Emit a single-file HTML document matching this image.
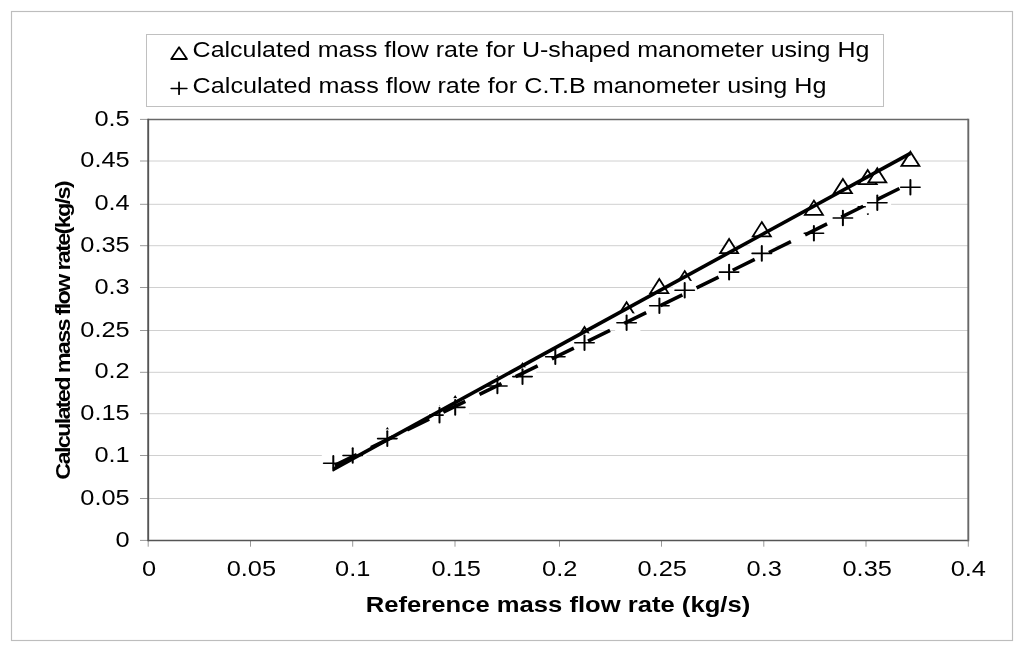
<!DOCTYPE html>
<html><head><meta charset="utf-8"><title>Calculated vs reference mass flow rate</title>
<style>html,body{margin:0;padding:0;background:#fff;width:1024px;height:652px;overflow:hidden}</style>
</head><body>
<svg width="1024" height="652" viewBox="0 0 1024 652" style="display:block">
<rect x="0" y="0" width="1024" height="652" fill="#ffffff"/>
<rect x="11.5" y="11.5" width="1001" height="629" fill="none" stroke="#bdbdbd" stroke-width="1.15"/>
<line x1="148.20" y1="498.50" x2="968.30" y2="498.50" stroke="#d0d0d0" stroke-width="1"/>
<line x1="148.20" y1="455.50" x2="968.30" y2="455.50" stroke="#d0d0d0" stroke-width="1"/>
<line x1="148.20" y1="413.70" x2="968.30" y2="413.70" stroke="#d0d0d0" stroke-width="1"/>
<line x1="148.20" y1="372.30" x2="968.30" y2="372.30" stroke="#d0d0d0" stroke-width="1"/>
<line x1="148.20" y1="330.50" x2="968.30" y2="330.50" stroke="#d0d0d0" stroke-width="1"/>
<line x1="148.20" y1="287.50" x2="968.30" y2="287.50" stroke="#d0d0d0" stroke-width="1"/>
<line x1="148.20" y1="245.70" x2="968.30" y2="245.70" stroke="#d0d0d0" stroke-width="1"/>
<line x1="148.20" y1="204.30" x2="968.30" y2="204.30" stroke="#d0d0d0" stroke-width="1"/>
<line x1="148.20" y1="161.00" x2="968.30" y2="161.00" stroke="#d0d0d0" stroke-width="1"/>
<line x1="140" y1="540.40" x2="148.20" y2="540.40" stroke="#999999" stroke-width="1"/>
<line x1="140" y1="498.50" x2="148.20" y2="498.50" stroke="#999999" stroke-width="1"/>
<line x1="140" y1="455.50" x2="148.20" y2="455.50" stroke="#999999" stroke-width="1"/>
<line x1="140" y1="413.70" x2="148.20" y2="413.70" stroke="#999999" stroke-width="1"/>
<line x1="140" y1="372.30" x2="148.20" y2="372.30" stroke="#999999" stroke-width="1"/>
<line x1="140" y1="330.50" x2="148.20" y2="330.50" stroke="#999999" stroke-width="1"/>
<line x1="140" y1="287.50" x2="148.20" y2="287.50" stroke="#999999" stroke-width="1"/>
<line x1="140" y1="245.70" x2="148.20" y2="245.70" stroke="#999999" stroke-width="1"/>
<line x1="140" y1="204.30" x2="148.20" y2="204.30" stroke="#999999" stroke-width="1"/>
<line x1="140" y1="161.00" x2="148.20" y2="161.00" stroke="#999999" stroke-width="1"/>
<line x1="140" y1="119.40" x2="148.20" y2="119.40" stroke="#999999" stroke-width="1"/>
<line x1="148.20" y1="540.40" x2="148.20" y2="546.7" stroke="#999999" stroke-width="1"/>
<line x1="250.50" y1="540.40" x2="250.50" y2="546.7" stroke="#999999" stroke-width="1"/>
<line x1="352.70" y1="540.40" x2="352.70" y2="546.7" stroke="#999999" stroke-width="1"/>
<line x1="455.00" y1="540.40" x2="455.00" y2="546.7" stroke="#999999" stroke-width="1"/>
<line x1="559.50" y1="540.40" x2="559.50" y2="546.7" stroke="#999999" stroke-width="1"/>
<line x1="661.50" y1="540.40" x2="661.50" y2="546.7" stroke="#999999" stroke-width="1"/>
<line x1="763.80" y1="540.40" x2="763.80" y2="546.7" stroke="#999999" stroke-width="1"/>
<line x1="866.00" y1="540.40" x2="866.00" y2="546.7" stroke="#999999" stroke-width="1"/>
<line x1="968.30" y1="540.40" x2="968.30" y2="546.7" stroke="#999999" stroke-width="1"/>
<path d="M387.30,428.60 L396.30,442.80 L378.30,442.80 Z" fill="#fff" stroke="#000" stroke-width="1.8" stroke-linejoin="miter"/>
<path d="M439.50,406.90 L448.50,421.10 L430.50,421.10 Z" fill="#fff" stroke="#000" stroke-width="1.8" stroke-linejoin="miter"/>
<path d="M455.20,396.70 L464.20,410.90 L446.20,410.90 Z" fill="#fff" stroke="#000" stroke-width="1.8" stroke-linejoin="miter"/>
<path d="M497.40,376.80 L506.40,391.00 L488.40,391.00 Z" fill="#fff" stroke="#000" stroke-width="1.8" stroke-linejoin="miter"/>
<path d="M522.50,363.80 L531.50,378.00 L513.50,378.00 Z" fill="#fff" stroke="#000" stroke-width="1.8" stroke-linejoin="miter"/>
<path d="M584.50,326.90 L593.50,341.10 L575.50,341.10 Z" fill="#fff" stroke="#000" stroke-width="1.8" stroke-linejoin="miter"/>
<path d="M626.60,302.20 L635.60,316.40 L617.60,316.40 Z" fill="#fff" stroke="#000" stroke-width="1.8" stroke-linejoin="miter"/>
<path d="M659.30,278.90 L668.30,293.10 L650.30,293.10 Z" fill="#fff" stroke="#000" stroke-width="1.8" stroke-linejoin="miter"/>
<path d="M684.70,271.10 L693.70,285.30 L675.70,285.30 Z" fill="#fff" stroke="#000" stroke-width="1.8" stroke-linejoin="miter"/>
<path d="M729.10,239.00 L738.10,253.20 L720.10,253.20 Z" fill="#fff" stroke="#000" stroke-width="1.8" stroke-linejoin="miter"/>
<path d="M761.80,222.10 L770.80,236.30 L752.80,236.30 Z" fill="#fff" stroke="#000" stroke-width="1.8" stroke-linejoin="miter"/>
<path d="M813.90,200.60 L822.90,214.80 L804.90,214.80 Z" fill="#fff" stroke="#000" stroke-width="1.8" stroke-linejoin="miter"/>
<path d="M842.90,179.00 L851.90,193.20 L833.90,193.20 Z" fill="#fff" stroke="#000" stroke-width="1.8" stroke-linejoin="miter"/>
<path d="M867.70,170.00 L876.70,184.20 L858.70,184.20 Z" fill="#fff" stroke="#000" stroke-width="1.8" stroke-linejoin="miter"/>
<path d="M877.30,168.20 L886.30,182.40 L868.30,182.40 Z" fill="#fff" stroke="#000" stroke-width="1.8" stroke-linejoin="miter"/>
<path d="M910.40,151.70 L919.40,165.90 L901.40,165.90 Z" fill="#fff" stroke="#000" stroke-width="1.8" stroke-linejoin="miter"/>
<rect x="321.80" y="453.90" width="25.3" height="19.9" fill="#fff"/>
<path d="M323.60,463.20H343.00" stroke="#000" stroke-width="1.6" stroke-linecap="round"/>
<path d="M333.30,455.90V470.50" stroke="#000" stroke-width="2.0" stroke-linecap="round"/>
<rect x="341.20" y="446.20" width="25.3" height="19.9" fill="#fff"/>
<path d="M343.00,455.50H362.40" stroke="#000" stroke-width="1.6" stroke-linecap="round"/>
<path d="M352.70,448.20V462.80" stroke="#000" stroke-width="2.0" stroke-linecap="round"/>
<rect x="375.80" y="429.30" width="25.3" height="19.9" fill="#fff"/>
<path d="M377.60,438.60H397.00" stroke="#000" stroke-width="1.6" stroke-linecap="round"/>
<path d="M387.30,431.30V445.90" stroke="#000" stroke-width="2.0" stroke-linecap="round"/>
<rect x="428.00" y="405.80" width="25.3" height="19.9" fill="#fff"/>
<path d="M429.80,415.10H449.20" stroke="#000" stroke-width="1.6" stroke-linecap="round"/>
<path d="M439.50,407.80V422.40" stroke="#000" stroke-width="2.0" stroke-linecap="round"/>
<rect x="443.70" y="398.10" width="25.3" height="19.9" fill="#fff"/>
<path d="M445.50,407.40H464.90" stroke="#000" stroke-width="1.6" stroke-linecap="round"/>
<path d="M455.20,400.10V414.70" stroke="#000" stroke-width="2.0" stroke-linecap="round"/>
<rect x="485.90" y="376.70" width="25.3" height="19.9" fill="#fff"/>
<path d="M487.70,386.00H507.10" stroke="#000" stroke-width="1.6" stroke-linecap="round"/>
<path d="M497.40,378.70V393.30" stroke="#000" stroke-width="2.0" stroke-linecap="round"/>
<rect x="511.00" y="367.30" width="25.3" height="19.9" fill="#fff"/>
<path d="M512.80,376.60H532.20" stroke="#000" stroke-width="1.6" stroke-linecap="round"/>
<path d="M522.50,369.30V383.90" stroke="#000" stroke-width="2.0" stroke-linecap="round"/>
<rect x="543.80" y="347.50" width="25.3" height="19.9" fill="#fff"/>
<path d="M545.60,356.80H565.00" stroke="#000" stroke-width="1.6" stroke-linecap="round"/>
<path d="M555.30,349.50V364.10" stroke="#000" stroke-width="2.0" stroke-linecap="round"/>
<rect x="573.00" y="333.40" width="25.3" height="19.9" fill="#fff"/>
<path d="M574.80,342.70H594.20" stroke="#000" stroke-width="1.6" stroke-linecap="round"/>
<path d="M584.50,335.40V350.00" stroke="#000" stroke-width="2.0" stroke-linecap="round"/>
<rect x="615.10" y="313.40" width="25.3" height="19.9" fill="#fff"/>
<path d="M616.90,322.70H636.30" stroke="#000" stroke-width="1.6" stroke-linecap="round"/>
<path d="M626.60,315.40V330.00" stroke="#000" stroke-width="2.0" stroke-linecap="round"/>
<rect x="647.90" y="296.40" width="25.3" height="19.9" fill="#fff"/>
<path d="M649.70,305.70H669.10" stroke="#000" stroke-width="1.6" stroke-linecap="round"/>
<path d="M659.40,298.40V313.00" stroke="#000" stroke-width="2.0" stroke-linecap="round"/>
<rect x="673.20" y="280.90" width="25.3" height="19.9" fill="#fff"/>
<path d="M675.00,290.20H694.40" stroke="#000" stroke-width="1.6" stroke-linecap="round"/>
<path d="M684.70,282.90V297.50" stroke="#000" stroke-width="2.0" stroke-linecap="round"/>
<rect x="717.60" y="262.80" width="25.3" height="19.9" fill="#fff"/>
<path d="M719.40,272.10H738.80" stroke="#000" stroke-width="1.6" stroke-linecap="round"/>
<path d="M729.10,264.80V279.40" stroke="#000" stroke-width="2.0" stroke-linecap="round"/>
<rect x="750.30" y="244.10" width="25.3" height="19.9" fill="#fff"/>
<path d="M752.10,253.40H771.50" stroke="#000" stroke-width="1.6" stroke-linecap="round"/>
<path d="M761.80,246.10V260.70" stroke="#000" stroke-width="2.0" stroke-linecap="round"/>
<rect x="802.40" y="224.00" width="25.3" height="19.9" fill="#fff"/>
<path d="M804.20,233.30H823.60" stroke="#000" stroke-width="1.6" stroke-linecap="round"/>
<path d="M813.90,226.00V240.60" stroke="#000" stroke-width="2.0" stroke-linecap="round"/>
<rect x="831.40" y="208.70" width="25.3" height="19.9" fill="#fff"/>
<path d="M833.20,218.00H852.60" stroke="#000" stroke-width="1.6" stroke-linecap="round"/>
<path d="M842.90,210.70V225.30" stroke="#000" stroke-width="2.0" stroke-linecap="round"/>
<rect x="856.40" y="197.40" width="25.3" height="19.9" fill="#fff"/>
<path d="M858.20,206.70H877.60" stroke="#000" stroke-width="1.6" stroke-linecap="round"/>
<path d="M867.90,199.40V214.00" stroke="#000" stroke-width="2.0" stroke-linecap="round"/>
<rect x="865.80" y="193.50" width="25.3" height="19.9" fill="#fff"/>
<path d="M867.60,202.80H887.00" stroke="#000" stroke-width="1.6" stroke-linecap="round"/>
<path d="M877.30,195.50V210.10" stroke="#000" stroke-width="2.0" stroke-linecap="round"/>
<rect x="898.90" y="177.90" width="25.3" height="19.9" fill="#fff"/>
<path d="M900.70,187.20H920.10" stroke="#000" stroke-width="1.6" stroke-linecap="round"/>
<path d="M910.40,179.90V194.50" stroke="#000" stroke-width="2.0" stroke-linecap="round"/>
<line x1="333.3" y1="469.3" x2="910.4" y2="153.3" stroke="#000" stroke-width="3.6"/>
<line x1="332.4" y1="466.55" x2="910.4" y2="183.12" stroke="#000" stroke-width="3.6" stroke-dasharray="24.5 15.79" stroke-dashoffset="37.62"/>
<path d="M148.20,119.50H968.30" stroke="#686868" stroke-width="1.5"/>
<path d="M148.20,540.40H968.30" stroke="#555555" stroke-width="1.5"/>
<path d="M148.20,118.75V541.15" stroke="#555555" stroke-width="1.9"/>
<path d="M968.30,118.75V541.15" stroke="#686868" stroke-width="1.9"/>
<text transform="translate(129.7,546.50) scale(1.1289,1)" text-anchor="end" font-family="'Liberation Sans', sans-serif" font-size="22.5" fill="#000">0</text>
<text transform="translate(129.7,504.60) scale(1.1289,1)" text-anchor="end" font-family="'Liberation Sans', sans-serif" font-size="22.5" fill="#000">0.05</text>
<text transform="translate(129.7,461.60) scale(1.1289,1)" text-anchor="end" font-family="'Liberation Sans', sans-serif" font-size="22.5" fill="#000">0.1</text>
<text transform="translate(129.7,419.80) scale(1.1289,1)" text-anchor="end" font-family="'Liberation Sans', sans-serif" font-size="22.5" fill="#000">0.15</text>
<text transform="translate(129.7,378.40) scale(1.1289,1)" text-anchor="end" font-family="'Liberation Sans', sans-serif" font-size="22.5" fill="#000">0.2</text>
<text transform="translate(129.7,336.60) scale(1.1289,1)" text-anchor="end" font-family="'Liberation Sans', sans-serif" font-size="22.5" fill="#000">0.25</text>
<text transform="translate(129.7,293.60) scale(1.1289,1)" text-anchor="end" font-family="'Liberation Sans', sans-serif" font-size="22.5" fill="#000">0.3</text>
<text transform="translate(129.7,251.80) scale(1.1289,1)" text-anchor="end" font-family="'Liberation Sans', sans-serif" font-size="22.5" fill="#000">0.35</text>
<text transform="translate(129.7,210.40) scale(1.1289,1)" text-anchor="end" font-family="'Liberation Sans', sans-serif" font-size="22.5" fill="#000">0.4</text>
<text transform="translate(129.7,167.10) scale(1.1289,1)" text-anchor="end" font-family="'Liberation Sans', sans-serif" font-size="22.5" fill="#000">0.45</text>
<text transform="translate(129.7,125.50) scale(1.1289,1)" text-anchor="end" font-family="'Liberation Sans', sans-serif" font-size="22.5" fill="#000">0.5</text>
<text transform="translate(149.10,575.7) scale(1.1289,1)" text-anchor="middle" font-family="'Liberation Sans', sans-serif" font-size="22.5" fill="#000">0</text>
<text transform="translate(251.40,575.7) scale(1.1289,1)" text-anchor="middle" font-family="'Liberation Sans', sans-serif" font-size="22.5" fill="#000">0.05</text>
<text transform="translate(352.70,575.7) scale(1.1289,1)" text-anchor="middle" font-family="'Liberation Sans', sans-serif" font-size="22.5" fill="#000">0.1</text>
<text transform="translate(456.20,575.7) scale(1.1289,1)" text-anchor="middle" font-family="'Liberation Sans', sans-serif" font-size="22.5" fill="#000">0.15</text>
<text transform="translate(559.70,575.7) scale(1.1289,1)" text-anchor="middle" font-family="'Liberation Sans', sans-serif" font-size="22.5" fill="#000">0.2</text>
<text transform="translate(662.20,575.7) scale(1.1289,1)" text-anchor="middle" font-family="'Liberation Sans', sans-serif" font-size="22.5" fill="#000">0.25</text>
<text transform="translate(764.20,575.7) scale(1.1289,1)" text-anchor="middle" font-family="'Liberation Sans', sans-serif" font-size="22.5" fill="#000">0.3</text>
<text transform="translate(867.20,575.7) scale(1.1289,1)" text-anchor="middle" font-family="'Liberation Sans', sans-serif" font-size="22.5" fill="#000">0.35</text>
<text transform="translate(968.30,575.7) scale(1.1289,1)" text-anchor="middle" font-family="'Liberation Sans', sans-serif" font-size="22.5" fill="#000">0.4</text>
<text transform="translate(558.0,611.6) scale(1.1861,1)" text-anchor="middle" font-family="'Liberation Sans', sans-serif" font-size="21.6" font-weight="bold" fill="#000">Reference mass flow rate (kg/s)</text>
<text transform="translate(70.3,330.9) rotate(-90) scale(1.12,1)" text-anchor="middle" font-family="'Liberation Sans', sans-serif" font-size="21.0" font-weight="bold" letter-spacing="-1.55" fill="#000">Calculated mass flow rate(kg/s)</text>
<rect x="146.5" y="34.5" width="737" height="72" fill="#fff" stroke="#c0c0c0" stroke-width="1"/>
<path d="M179.05,47.3 L187.0,59.0 L171.2,59.0 Z" fill="#fff" stroke="#000" stroke-width="1.8" stroke-linejoin="round"/>
<path d="M171.15,88.5H186.95" stroke="#000" stroke-width="1.5" stroke-linecap="round"/>
<path d="M179.05,82.4V94.2" stroke="#000" stroke-width="1.8" stroke-linecap="round"/>
<text transform="translate(192.6,57.1) scale(1.1579,1)" font-family="'Liberation Sans', sans-serif" font-size="21.6" fill="#000">Calculated mass flow rate for U-shaped manometer using Hg</text>
<text transform="translate(192.6,92.8) scale(1.1662,1)" font-family="'Liberation Sans', sans-serif" font-size="21.6" fill="#000">Calculated mass flow rate for C.T.B manometer using Hg</text>
</svg>
</body></html>
